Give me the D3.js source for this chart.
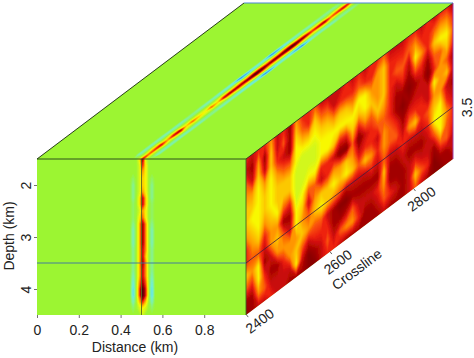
<!DOCTYPE html>
<html>
<head>
<meta charset="utf-8">
<script src="https://cdn.jsdelivr.net/npm/d3@7"></script>
<style>
  body { margin: 0; background: #fff; }
  svg { display: block; }
  text { font-family: "Liberation Sans", Arial, sans-serif; font-size: 14px; fill: #222; }
  .tick line { stroke: #333; stroke-width: 0.7; }
</style>
</head>
<body>
<div id="chart"></div>
<script>
// Tick labels
const distanceTicks = [0, 0.2, 0.4, 0.6, 0.8];
const depthTicks = [2, 3, 4];
const crosslineTicks = [2400, 2600, 2800];
const sliceDepth = [3.5];

// Sample positions of the three slices
const depthRows = [1.5, 1.75, 2, 2.25, 2.5, 2.75, 3, 3.25, 3.5, 3.75, 4, 4.25, 4.5];
const depthRowsFine = [1.5, 1.625, 1.75, 1.875, 2, 2.125, 2.25, 2.375, 2.5, 2.625, 2.75, 2.875, 3, 3.125, 3.25, 3.375, 3.5, 3.625, 3.75, 3.875, 4, 4.125, 4.25, 4.375, 4.5];
const traceDistances = [-0.1, 0.445, 0.46, 0.475, 0.49, 0.505, 0.52, 0.535, 0.55, 0.565, 1.1];
const crosslines = [2400, 2415, 2430, 2445, 2460, 2475, 2490, 2505, 2520, 2535, 2550, 2565, 2580, 2595, 2610, 2625, 2640, 2655, 2670, 2685, 2700, 2715, 2730, 2745, 2760, 2775, 2790, 2805, 2820, 2835, 2850, 2865, 2880, 2895];

// Front slice: one row per depth, one value per distance
const frontAmp = [
  [0, 0, 0, 0, 2, 8, 1, 0, 0, 0, 0],
  [0, 0, 0, 0, 1, 6, 2, 0, 0, 0, 0],
  [0, 0, 0, 0, 1, 4, 2, 0, 0, 0, 0],
  [0, 0, -.5, 0, 1, 3, 2, 0, -.5, 0, 0],
  [0, 0, -1, 0, 1, 3, 2, 0, -1, 0, 0],
  [0, 0, -1, 0, 1, 4, 2, 0, -1, 0, 0],
  [0, 0, -1, 0, 2, 7, 3, 0, -1, 0, 0],
  [0, 0, -.5, 0, 2, 7, 3, 0, -.5, 0, 0],
  [0, 0, -.5, 0, 1, 4, 2, 0, -.5, 0, 0],
  [0, 0, -.5, 0, 2, 5, 2, 0, -.5, 0, 0],
  [0, 0, -1, 0, 3, 8, 4, 0, -1, 0, 0],
  [0, 0, -1.5, 0, 3, 8, 4, 0, -1.5, 0, 0],
  [0, 0, -1.5, 0, 3, 8, 4, 0, -1.5, 0, 0],
  [0, 0, -1.5, 0, 3, 8, 4, 0, -1.5, 0, 0],
  [0, 0, -1, 0, 3, 7, 4, 0, -1, 0, 0],
  [0, 0, -1, 0, 3, 7, 3, 0, -1, 0, 0],
  [0, 0, -1, 0, 3, 8, 4, 0, -1, 0, 0],
  [0, 0, -1, 0, 3, 7, 4, 0, -1, 0, 0],
  [0, 0, -1.5, 0, 3, 7, 4, 0, -1.5, 0, 0],
  [0, 0, -2, 0, 4, 8, 5, 0, -2, 0, 0],
  [0, 0, -2.5, 0, 5, 11, 6, 0, -2.5, 0, 0],
  [0, 0, -2.5, 0, 5, 11, 6, 0, -2.5, 0, 0],
  [0, 0, -1.5, 0, 3, 6, 3, 0, -1.5, 0, 0],
  [0, 0, -.5, 0, 1, 2, 1, 0, -.5, 0, 0],
  [0, 0, 0, 0, 0, 1, 0, 0, 0, 0, 0]
];

// Top slice: one row per crossline, one value per distance
const topAmp = [
  [0, 0, 0, 0, 1, 7, 1, 0, 0, 0, 0],
  [0, 0, -1.5, -.5, 1, 5, 1, -.5, -1.5, 0, 0],
  [0, 0, -1.5, -.5, 2, 6, 1, -.5, -1.5, 0, 0],
  [0, 0, -1.5, -.5, 2, 7, 2, -.5, -1.5, 0, 0],
  [0, 0, -1.5, -.5, 1, 4, 1, -.5, -1.5, 0, 0],
  [0, 0, -1.5, -.5, 2, 7, 2, -.5, -1.5, 0, 0],
  [0, 0, -1.5, -.5, 2, 8, 2, -.5, -1.5, 0, 0],
  [0, 0, -1.5, -.5, 1, 3, 1, -.5, -1.5, 0, 0],
  [0, 0, -1.5, -.5, 1, 5, 1, -.5, -1.5, 0, 0],
  [0, 0, -1, -.5, 1, 3, 1, -.5, -1, 0, 0],
  [0, 0, -1, -.5, 1, 2, 1, -.5, -1, 0, 0],
  [0, 0, -1.5, -.5, 1, 5, 1, -.5, -1.5, 0, 0],
  [0, 0, -1.5, -.5, 1, 3, 1, -.5, -1.5, 0, 0],
  [0, 0, -1.5, -.5, 2, 7, 2, -.5, -1.5, 0, 0],
  [0, 0, -2, -.5, 2, 8, 2, -.5, -2, 0, 0],
  [0, 0, -2, -.5, 2, 8, 3, -.5, -2, 0, 0],
  [0, 0, -2.5, -.5, 3, 8, 3, -.5, -2.5, 0, 0],
  [0, 0, -5, -1, 3, 9, 3, -.5, -2.5, 0, 0],
  [0, 0, -4, -1, 4, 11, 4, -1, -5, 0, 0],
  [0, 0, -2.5, -.5, 4, 10, 4, -.5, -4, 0, 0],
  [0, 0, -2, -.5, 3, 8, 3, -.5, -2, 0, 0],
  [0, 0, -2.5, -.5, 3, 9, 3, -.5, -2, 0, 0],
  [0, 0, -5, -1, 3, 9, 3, -.5, -2.5, 0, 0],
  [0, 0, -4, -.5, 4, 10, 4, -1, -4, 0, 0],
  [0, 0, -2.5, -.5, 4, 11, 4, -1, -5, 0, 0],
  [0, 0, -2, -.5, 3, 9, 3, -.5, -2.5, 0, 0],
  [0, 0, -1.5, -.5, 3, 8, 2, -.5, -1.5, 0, 0],
  [0, 0, -1.5, -.5, 2, 6, 2, -.5, -1.5, 0, 0],
  [0, 0, -1.5, -.5, 2, 7, 2, -.5, -1.5, 0, 0],
  [0, 0, -1.5, -.5, 2, 8, 2, -.5, -1.5, 0, 0],
  [0, 0, -1, -.5, 1, 5, 1, -.5, -1, 0, 0],
  [0, 0, -1, -.5, 2, 6, 1, -.5, -1, 0, 0],
  [0, 0, -1, -.5, 2, 7, 2, -.5, -1, 0, 0],
  [0, 0, -.5, 0, 1, 6, 1, 0, -.5, 0, 0]
];

// Side slice: one list per crossline, one value per depth row
const sideAmp = [
  [6, 7, 5, 4, 3, 3, 4, 6, 6, 3, 5, 8, 9],
  [7, 8, 7, 4, 3, 2, 3, 4, 5, 4, 6, 8, 8],
  [6, 4, 3, 2, 2, 2, 2, 3, 5, 2, 2, 4, 7],
  [6, 8, 7, 4, 3, 3, 4, 6, 7, 8, 6, 5, 7],
  [4, 3, 3, 2, 2, 2, 3, 4, 4, 7, 8, 7, 6],
  [7, 7, 6, 4, 3, 3, 2, 4, 3, 4, 8, 7, 7],
  [6, 5, 7, 5, 3, 3, 5, 8, 5, 4, 6, 7, 7],
  [8, 8, 8, 5, 3, 3, 6, 8, 7, 4, 4, 7, 8],
  [4, 3, 2, 2, 1, 1, 1, 2, 2, 4, 3, 2, 8],
  [6, 5, 3, 1, 1, 1, 2, 3, 4, 3, 5, 7, 8],
  [6, 6, 3, 1, 1, 2, 5, 7, 5, 4, 7, 9, 9],
  [5, 3, 2, 1, 1, 2, 5, 4, 3, 5, 6, 8, 9],
  [7, 5, 3, 2, 2, 6, 7, 3, 2, 5, 6, 7, 7],
  [7, 5, 3, 2, 2, 6, 6, 3, 3, 7, 6, 5, 6],
  [7, 7, 4, 2, 3, 7, 4, 2, 4, 8, 8, 7, 6],
  [7, 6, 3, 2, 6, 9, 4, 3, 5, 9, 8, 5, 7],
  [6, 6, 3, 2, 6, 9, 3, 2, 7, 9, 7, 4, 8],
  [7, 6, 4, 2, 3, 5, 4, 3, 7, 8, 5, 4, 8],
  [6, 5, 2, 3, 6, 9, 7, 5, 7, 8, 7, 6, 8],
  [7, 6, 2, 2, 4, 7, 6, 3, 7, 8, 7, 8, 8],
  [6, 6, 4, 3, 5, 6, 6, 4, 6, 8, 7, 8, 8],
  [6, 4, 4, 4, 3, 5, 7, 6, 7, 8, 6, 7, 8],
  [5, 3, 3, 3, 4, 5, 4, 4, 5, 3, 4, 5, 7],
  [7, 6, 6, 6, 6, 6, 5, 5, 7, 8, 8, 6, 8],
  [7, 6, 5, 7, 8, 8, 6, 5, 7, 8, 8, 7, 8],
  [7, 6, 5, 6, 8, 9, 8, 7, 6, 7, 8, 8, 8],
  [6, 5, 7, 8, 9, 8, 6, 4, 7, 8, 7, 7, 7],
  [6, 4, 2, 5, 8, 7, 6, 3, 7, 8, 6, 3, 5],
  [7, 6, 4, 6, 7, 7, 6, 6, 7, 8, 7, 5, 7],
  [6, 6, 6, 8, 9, 7, 7, 5, 6, 7, 7, 6, 8],
  [7, 5, 3, 5, 6, 2, 4, 3, 2, 5, 8, 9, 9],
  [6, 4, 2, 5, 4, 4, 4, 2, 2, 2, 5, 8, 9],
  [6, 4, 2, 3, 5, 3, 7, 6, 4, 5, 5, 8, 8],
  [8, 6, 5, 6, 8, 7, 8, 7, 6, 6, 7, 7, 8]
];

const W = 474, H = 358;
const LEFT = 37, RIGHT = 246, TOP = 159, BOTTOM = 315;
const SKEW_X = 207, SKEW_Y = 156; // how far the box recedes, in px

const x = d3.scaleLinear().domain([0, 1]).range([LEFT, RIGHT]);
const y = d3.scaleLinear().domain([1.5, 4.5]).range([TOP, BOTTOM]);
const yBack = d3.scaleLinear().domain([1.5, 4.5]).range([TOP - SKEW_Y, BOTTOM - SKEW_Y]);
const recedeX = d3.scaleLinear().domain([2400, 2895]).range([0, SKEW_X]);
const recedeY = d3.scaleLinear().domain([2400, 2895]).range([0, -SKEW_Y]);

const color = d3.scaleLinear()
  .domain([-6, -4, -2, -1, 0, 1, 2, 3, 4, 5, 6, 7, 8, 9, 12])
  .range(["#1c3fd0", "#3fa8ee", "#6eeedc", "#84f296", "#9cf533", "#d2f71a", "#f8f806", "#fcc800", "#ff9600", "#fb5a08", "#ee2010", "#c80c08", "#a20404", "#8a0000", "#2a0018"])
  .clamp(true);

const svg = d3.select("#chart").append("svg").attr("width", W).attr("height", H);
const defs = svg.append("defs");

// sharp slices get a light blur, the side one is blurred mostly up and down
// so its vertical streaks survive
function addBlur(id, dev) {
  defs.append("filter").attr("id", id).attr("x", "-5%").attr("y", "-5%").attr("width", "110%").attr("height", "110%")
    .append("feGaussianBlur").attr("stdDeviation", dev);
}
addBlur("soft", "0.5");
addBlur("streak", "0.6 1.6");

// maps a contour coordinate (cell units) back to the sample values on that axis
function indexScale(samples) {
  return d3.scaleLinear().domain(samples.map((d, i) => i + 0.5)).range(samples);
}

// draws one slice: filled bands of the amplitude grid, projected onto its face
function drawSlice(id, corners, grid, blur, toScreen) {
  const points = corners.map(c => c.join(",")).join(" ");
  defs.append("clipPath").attr("id", id).append("polygon").attr("points", points);
  const face = svg.append("g").attr("clip-path", `url(#${id})`);
  face.append("polygon").attr("points", points).attr("fill", color(0));

  const rows = grid.length, cols = grid[0].length;
  const contours = d3.contours().size([cols, rows]).thresholds(d3.range(-6.125, 12, 0.25))(grid.flat());
  const path = d3.geoPath(d3.geoTransform({
    point(cx, cy) { const p = toScreen(cx, cy); this.stream.point(p[0], p[1]); }
  }));
  face.append("g").attr("filter", `url(#${blur})`)
    .selectAll("path").data(contours).join("path")
      .attr("d", path)
      .attr("fill", d => color(d.value + 0.125));
}

// Front slice
const frontCol = indexScale(traceDistances), frontRow = indexScale(depthRowsFine);
drawSlice("clip-front", [[LEFT, TOP], [RIGHT, TOP], [RIGHT, BOTTOM], [LEFT, BOTTOM]], frontAmp, "soft",
  (cx, cy) => [x(frontCol(cx)), y(frontRow(cy))]);

// Top slice
const topCol = indexScale(traceDistances), topRow = indexScale(crosslines);
drawSlice("clip-top", [[LEFT, TOP], [RIGHT, TOP], [RIGHT + SKEW_X, TOP - SKEW_Y], [LEFT + SKEW_X, TOP - SKEW_Y]], topAmp, "soft",
  (cx, cy) => [x(topCol(cx)) + recedeX(topRow(cy)), TOP + recedeY(topRow(cy))]);

// Side slice
const sideCol = indexScale(crosslines), sideRow = indexScale(depthRows);
drawSlice("clip-side", [[RIGHT, TOP], [RIGHT + SKEW_X, TOP - SKEW_Y], [RIGHT + SKEW_X, BOTTOM - SKEW_Y], [RIGHT, BOTTOM]], d3.transpose(sideAmp), "streak",
  (cx, cy) => [RIGHT + recedeX(sideCol(cx)), y(sideRow(cy)) + recedeY(sideCol(cx))]);

// Frame of the box and the lines marking where the slices cross
function edge(x1, y1, x2, y2, stroke, w) {
  svg.append("line").attr("x1", x1).attr("y1", y1).attr("x2", x2).attr("y2", y2)
    .attr("stroke", stroke).attr("stroke-width", w);
}
edge(x(0.5), TOP, x(0.5), BOTTOM, "#5a6a20", 0.9);
edge(LEFT, TOP, RIGHT, TOP, "#22401c", 0.9);
edge(LEFT, TOP, LEFT + SKEW_X, TOP - SKEW_Y, "#1a2a14", 0.9);
edge(RIGHT, TOP, RIGHT + SKEW_X, TOP - SKEW_Y, "#28301a", 0.9);
edge(RIGHT, TOP, RIGHT, BOTTOM, "#3c6a20", 0.9);
edge(LEFT, y(3.5), RIGHT, y(3.5), "#3a70a8", 0.9);
edge(RIGHT, y(3.5), RIGHT + SKEW_X, yBack(3.5), "#402040", 0.8);
edge(LEFT + SKEW_X, TOP - SKEW_Y, RIGHT + SKEW_X, TOP - SKEW_Y, "#4a86d8", 1.1);
edge(RIGHT + SKEW_X, TOP - SKEW_Y, RIGHT + SKEW_X, BOTTOM - SKEW_Y, "#a040a8", 1);

// Distance axis
const xAxis = svg.append("g").attr("transform", `translate(0,${BOTTOM})`)
  .call(d3.axisBottom(x).tickValues(distanceTicks).tickFormat(d => d).tickSize(3).tickPadding(7));
xAxis.select(".domain").remove();

// Depth axis, labels turned along the axis
const yAxis = svg.append("g").attr("transform", `translate(${LEFT},0)`)
  .call(d3.axisLeft(y).tickValues(depthTicks).tickFormat(d => d).tickSize(3));
yAxis.select(".domain").remove();
yAxis.selectAll("text")
  .attr("x", null).attr("dy", null)
  .attr("text-anchor", "middle")
  .attr("transform", "translate(-6,0) rotate(-90)");

// Crossline axis runs along the receding bottom edge
const sideLen = Math.hypot(SKEW_X, SKEW_Y);
const angle = -Math.atan2(SKEW_Y, SKEW_X) * 180 / Math.PI;
const along = d3.scaleLinear().domain([2400, 2895]).range([0, sideLen]);
const zAxis = svg.append("g").attr("transform", `translate(${RIGHT},${BOTTOM}) rotate(${angle})`)
  .call(d3.axisBottom(along).tickValues(crosslineTicks).tickFormat(d => d).tickSize(3).tickPadding(5));
zAxis.select(".domain").remove();
zAxis.selectAll(".tick text").filter(d => d === 2400).attr("x", 7);
zAxis.append("text").attr("x", 116).attr("y", 35).attr("text-anchor", "middle").attr("fill", "#222").text("Crossline");

// Depth of the slice repeated on the back edge
const backAxis = svg.append("g").attr("transform", `translate(${RIGHT + SKEW_X},0)`)
  .call(d3.axisRight(yBack).tickValues(sliceDepth).tickFormat(d => d).tickSize(0));
backAxis.select(".domain").remove();
backAxis.selectAll("text")
  .attr("x", null).attr("dy", null)
  .attr("text-anchor", "middle")
  .attr("transform", "translate(19,0) rotate(-90)");

// Axis titles
svg.append("text").attr("x", 135).attr("y", 352).attr("text-anchor", "middle").text("Distance (km)");
svg.append("text").attr("transform", "translate(14,236) rotate(-90)").attr("text-anchor", "middle").text("Depth (km)");

svg.selectAll("g.tick text").style("font-size", "14px").style("font-family", '"Liberation Sans", Arial, sans-serif').attr("fill", "#222");
</script>
</body>
</html>
